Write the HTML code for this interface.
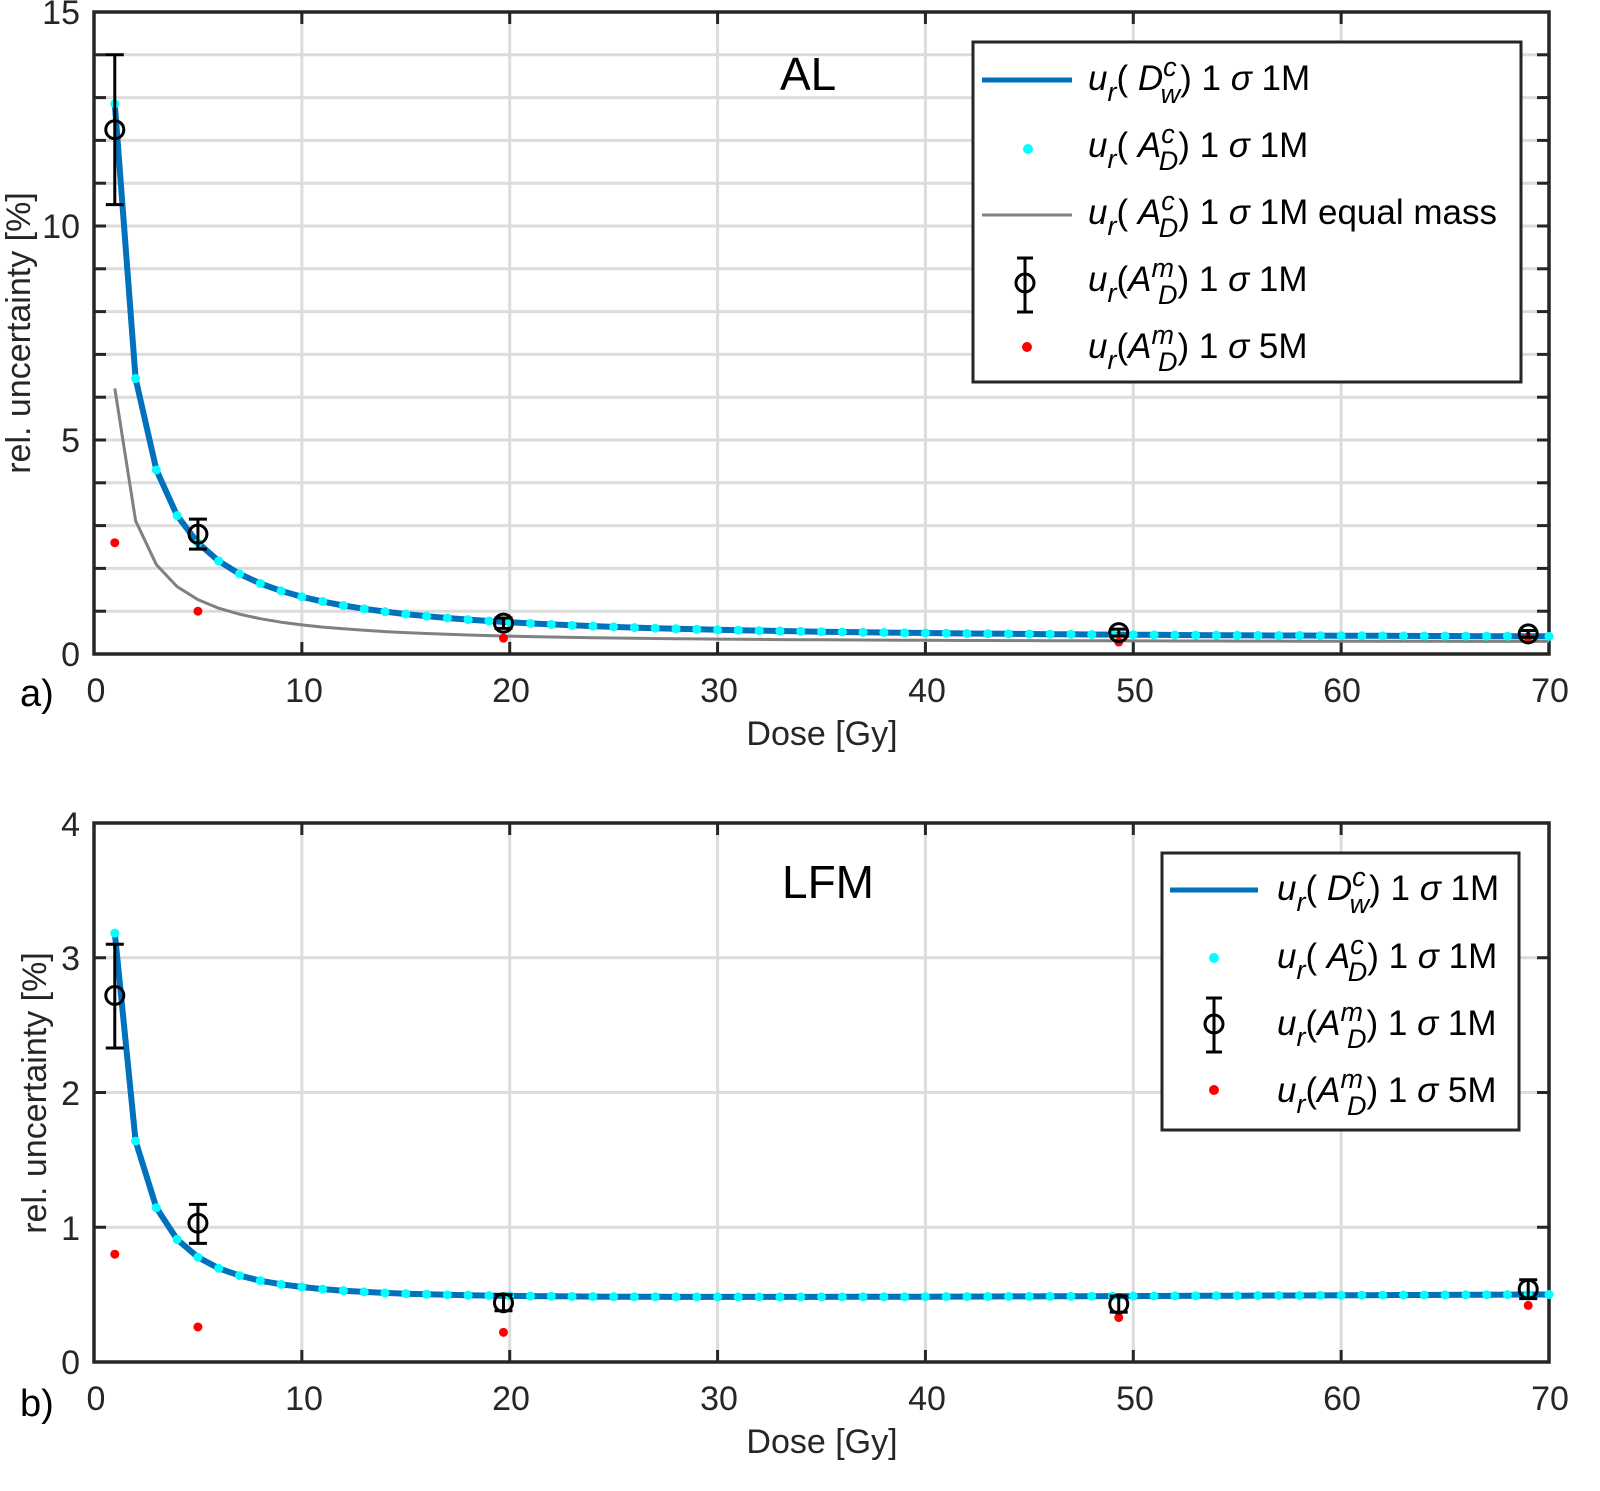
<!DOCTYPE html>
<html><head><meta charset="utf-8"><style>
html,body{margin:0;padding:0;background:#fff}
svg{display:block;font-family:"Liberation Sans",Arial,sans-serif}
</style></head><body>
<svg id="s" width="1600" height="1491" viewBox="0 0 1600 1491" xmlns="http://www.w3.org/2000/svg">
<rect width="1600" height="1491" fill="#fff"/>
<g id="g1"></g>
<g id="g2"></g>
<g font-size="34" fill="#262626" text-anchor="middle">
<text x="96" y="702">0</text><text x="304" y="702">10</text><text x="511" y="702">20</text><text x="719" y="702">30</text><text x="927" y="702">40</text><text x="1135" y="702">50</text><text x="1342" y="702">60</text><text x="1550" y="702">70</text>
<text x="822" y="745">Dose [Gy]</text>
<text x="96" y="1410">0</text><text x="304" y="1410">10</text><text x="511" y="1410">20</text><text x="719" y="1410">30</text><text x="927" y="1410">40</text><text x="1135" y="1410">50</text><text x="1342" y="1410">60</text><text x="1550" y="1410">70</text>
<text x="822" y="1453">Dose [Gy]</text>
</g>
<g font-size="34" fill="#262626" text-anchor="end">
<text x="80" y="666">0</text><text x="80" y="452">5</text><text x="80" y="238">10</text><text x="80" y="24">15</text>
<text x="80" y="1374">0</text><text x="80" y="1240">1</text><text x="80" y="1105">2</text><text x="80" y="970">3</text><text x="80" y="836">4</text>
</g>
<text transform="translate(30,333) rotate(-90)" font-size="34" fill="#262626" text-anchor="middle">rel. uncertainty [%]</text>
<text transform="translate(46,1093) rotate(-90)" font-size="34" fill="#262626" text-anchor="middle">rel. uncertainty [%]</text>
<text x="20" y="706" font-size="38" fill="#000">a)</text>
<text x="20" y="1416" font-size="38" fill="#000">b)</text>
<text x="780" y="90" font-size="46" fill="#000">AL</text>
<text x="782" y="898" font-size="46" fill="#000">LFM</text>
<rect x="973" y="42" width="548" height="340" fill="#fff" stroke="#262626" stroke-width="3"/>
<line x1="982" y1="80" x2="1072" y2="80" stroke="#0072BD" stroke-width="5"/>
<circle cx="1028" cy="149" r="5" fill="#00FFFF"/>
<line x1="982" y1="215" x2="1072" y2="215" stroke="#808080" stroke-width="3"/>
<g stroke="#000" stroke-width="3" fill="none"><line x1="1025" y1="258" x2="1025" y2="312"/><line x1="1017" y1="258" x2="1033" y2="258"/><line x1="1017" y1="312" x2="1033" y2="312"/><circle cx="1025" cy="283" r="9"/></g>
<circle cx="1027" cy="347" r="5" fill="#FF0000"/>
<g font-size="35" fill="#000" id="lt"></g>
<rect x="1162" y="853" width="357" height="277" fill="#fff" stroke="#262626" stroke-width="3"/>
<line x1="1170" y1="890" x2="1258" y2="890" stroke="#0072BD" stroke-width="5"/>
<circle cx="1214" cy="958" r="5" fill="#00FFFF"/>
<g stroke="#000" stroke-width="3" fill="none"><line x1="1214" y1="998" x2="1214" y2="1052"/><line x1="1206" y1="998" x2="1222" y2="998"/><line x1="1206" y1="1052" x2="1222" y2="1052"/><circle cx="1214" cy="1024" r="9"/></g>
<circle cx="1214" cy="1090" r="5" fill="#FF0000"/>
<g font-size="35" fill="#000" id="lb"></g>
</svg>
<script>
var NS="http://www.w3.org/2000/svg";
function el(p,t,a,txt){var e=document.createElementNS(NS,t);for(var k in a)e.setAttribute(k,a[k]);if(txt!==undefined)e.textContent=txt;p.appendChild(e);return e;}
function plot(g,cfg){
 var X=function(x){return 94+x*(1549-94)/70;};
 var Y=function(y){return cfg.y0-(y/cfg.ymax)*(cfg.y0-cfg.y1);};
 for(var i=cfg.gstep;i<cfg.ymax;i+=cfg.gstep)el(g,"line",{x1:94,x2:1549,y1:Y(i),y2:Y(i),stroke:"#dcdcdc","stroke-width":3});
 for(var i=10;i<70;i+=10)el(g,"line",{x1:X(i),x2:X(i),y1:cfg.y1,y2:cfg.y0,stroke:"#dcdcdc","stroke-width":3});
 for(var i=0;i<=70;i+=10){el(g,"line",{x1:X(i),x2:X(i),y1:cfg.y0,y2:cfg.y0-12,stroke:"#262626","stroke-width":3});el(g,"line",{x1:X(i),x2:X(i),y1:cfg.y1,y2:cfg.y1+12,stroke:"#262626","stroke-width":3});}
 for(var i=0;i<=cfg.ymax;i+=cfg.gstep){el(g,"line",{x1:94,x2:106,y1:Y(i),y2:Y(i),stroke:"#262626","stroke-width":3});el(g,"line",{x1:1537,x2:1549,y1:Y(i),y2:Y(i),stroke:"#262626","stroke-width":3});}
 el(g,"rect",{x:94,y:cfg.y1,width:1455,height:cfg.y0-cfg.y1,fill:"none",stroke:"#262626","stroke-width":3.5});
 function path(f,col,w){var d="";for(var x=1;x<=70;x++)d+=(x==1?"M":"L")+X(x).toFixed(1)+","+Y(f(x)).toFixed(1);el(g,"path",{d:d,fill:"none",stroke:col,"stroke-width":w,"stroke-linejoin":"round"});}
 if(cfg.gray)path(cfg.gray,"#808080",3);
 path(cfg.f,"#0072BD",6);
 for(var x=1;x<=70;x++)el(g,"circle",{cx:X(x),cy:Y(cfg.f(x)),r:4.5,fill:"#00FFFF"});
 cfg.red.forEach(function(p){el(g,"circle",{cx:X(p[0]),cy:Y(p[1]),r:4.5,fill:"#FF0000"});});
 cfg.eb.forEach(function(p){var x=X(p[0]);el(g,"line",{x1:x,x2:x,y1:Y(p[2]),y2:Y(p[3]),stroke:"#000","stroke-width":3});
  el(g,"line",{x1:x-9,x2:x+9,y1:Y(p[2]),y2:Y(p[2]),stroke:"#000","stroke-width":3});el(g,"line",{x1:x-9,x2:x+9,y1:Y(p[3]),y2:Y(p[3]),stroke:"#000","stroke-width":3});
  el(g,"circle",{cx:x,cy:Y(p[1]),r:9,fill:"none",stroke:"#000","stroke-width":3});});
}
plot(document.getElementById("g1"),{y0:654,y1:12,ymax:15,gstep:1,
 f:function(d){return Math.sqrt(Math.pow(12.85/d,2)+0.37*0.37);},
 gray:function(d){return Math.sqrt(Math.pow(6.2/d,2)+0.28*0.28);},
 red:[[1,2.6],[5,1.0],[19.7,0.37],[49.3,0.28],[69,0.4]],
 eb:[[1,12.25,10.5,14.0],[5,2.8,2.45,3.15],[19.7,0.72,0.6,0.84],[49.3,0.5,0.42,0.58],[69,0.47,0.39,0.55]]});
plot(document.getElementById("g2"),{y0:1362,y1:823,ymax:4,gstep:1,
 f:function(d){return Math.sqrt(Math.pow(3.15/d,2)+0.45*0.45)+0.0007*d;},
 red:[[1,0.8],[5,0.26],[19.7,0.22],[49.3,0.33],[69,0.42]],
 eb:[[1,2.72,2.33,3.1],[5,1.03,0.88,1.17],[19.7,0.44,0.38,0.5],[49.3,0.43,0.37,0.49],[69,0.54,0.47,0.61]]});
function entry(g,x,y,sym,sup,sub,rest,sp){
 var t=el(g,"text",{x:x,y:y});
 el(t,"tspan",{"font-style":"italic"},"u");
 el(t,"tspan",{"font-style":"italic","font-size":27,dy:11},"r");
 el(t,"tspan",{dy:-11},sp?"( ":"(");
 el(t,"tspan",{"font-style":"italic"},sym);
 el(t,"tspan",{"font-style":"italic","font-size":27,dy:-14},sup);
 el(t,"tspan",{"font-style":"italic","font-size":27,dx:-16,dy:27},sub);
 el(t,"tspan",{dy:-13},")"+(sp?"":" ")+" 1 ");
 el(t,"tspan",{"font-style":"italic"},"σ");
 el(t,"tspan",{},rest);
}
var lt=document.getElementById("lt");
entry(lt,1088,90,"D","c","w"," 1M",1);
entry(lt,1088,157,"A","c","D"," 1M",1);
entry(lt,1088,224,"A","c","D"," 1M equal mass",1);
entry(lt,1088,291,"A","m","D"," 1M",0);
entry(lt,1088,358,"A","m","D"," 5M",0);
var lb=document.getElementById("lb");
entry(lb,1277,900,"D","c","w"," 1M",1);
entry(lb,1277,968,"A","c","D"," 1M",1);
entry(lb,1277,1035,"A","m","D"," 1M",0);
entry(lb,1277,1102,"A","m","D"," 5M",0);
</script>
</body></html>
